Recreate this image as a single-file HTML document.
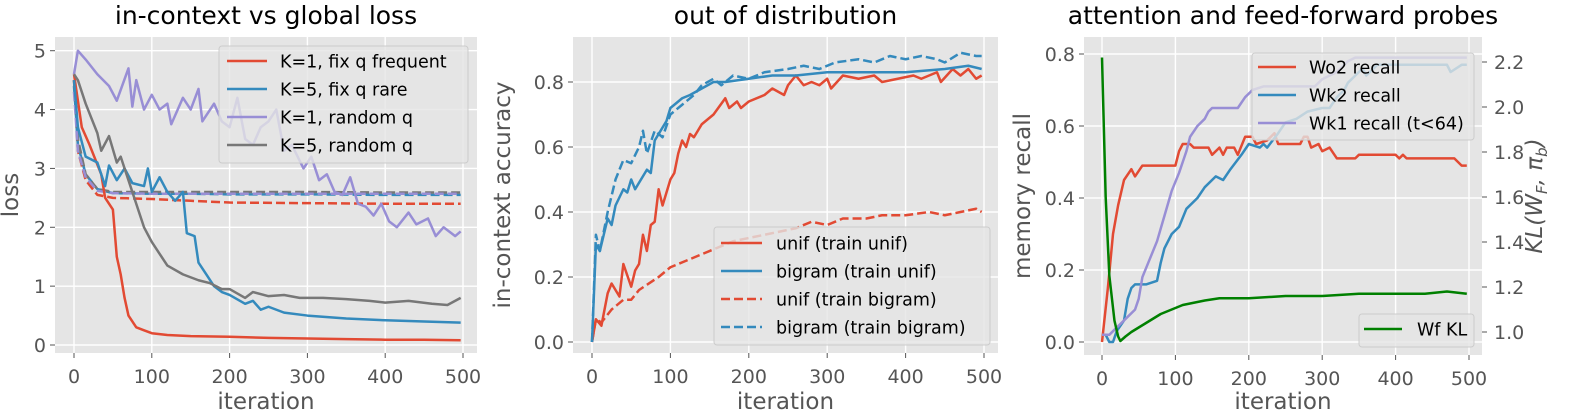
<!DOCTYPE html>
<html><head><meta charset="utf-8"><style>
body{margin:0;background:#fff;}
svg text{font-family:"DejaVu Sans","Liberation Sans",sans-serif;}
</style></head><body>
<svg id="fig" width="1581" height="414" viewBox="0 0 1581 414" xmlns="http://www.w3.org/2000/svg"></svg>
<script>
// ---- Panel 1 data: in-context vs global loss ----
const p1_redX=[0,10,20,35,40,50,55,60,65,70,80,90,100,120,150,200,250,300,350,400,450,497];
const p1_redY=[4.6,3.7,3.4,2.9,2.5,2.3,1.5,1.2,0.8,0.5,0.3,0.25,0.2,0.17,0.15,0.14,0.12,0.11,0.1,0.09,0.09,0.08];
const p1_blueX=[0,5,15,30,40,45,55,65,75,90,95,100,110,120,130,140,145,155,160,170,180,190,200,220,230,240,250,270,300,350,400,450,497];
const p1_blueY=[4.5,3.7,3.2,3.1,2.7,3.05,2.8,3.0,2.75,2.7,3.0,2.6,2.85,2.6,2.45,2.6,1.9,1.85,1.4,1.2,1.0,0.9,0.85,0.7,0.75,0.6,0.65,0.55,0.5,0.45,0.42,0.4,0.38];
const p1_purpX=[0,5,15,30,45,55,70,75,80,90,100,110,120,125,140,150,160,165,175,180,190,200,210,220,230,240,250,260,270,280,295,305,315,325,335,345,355,365,375,385,395,405,415,430,440,455,465,475,490,497];
const p1_purpY=[4.6,5.0,4.85,4.6,4.4,4.15,4.7,4.05,4.5,4.0,4.25,4.0,4.1,3.75,4.2,4.0,4.35,3.8,4.0,4.1,3.8,3.7,4.2,3.5,3.4,3.7,3.8,4.0,3.3,3.4,3.0,3.2,2.8,2.9,2.6,2.55,2.85,2.4,2.35,2.2,2.4,2.1,2.0,2.25,2.05,2.15,1.85,2.0,1.85,1.93];
const p1_grayX=[0,5,15,30,35,45,55,60,70,80,90,100,110,120,140,160,175,190,200,220,230,250,270,290,320,350,380,400,430,460,480,497];
const p1_grayY=[4.6,4.5,4.1,3.6,3.3,3.55,3.1,3.2,2.8,2.4,2.0,1.75,1.55,1.35,1.2,1.1,1.05,0.95,0.95,0.8,0.9,0.83,0.85,0.8,0.8,0.78,0.75,0.72,0.75,0.7,0.68,0.8];
const p1_dashX=[0,5,15,30,50,100,150,200,300,400,497];
const p1_dRedY=[4.5,3.3,2.8,2.55,2.5,2.48,2.45,2.42,2.41,2.4,2.4];
const p1_dBlueY=[4.4,3.4,2.9,2.65,2.58,2.57,2.57,2.56,2.56,2.55,2.55];
const p1_dPurpY=[4.3,3.3,2.85,2.62,2.58,2.57,2.57,2.57,2.57,2.57,2.57];
const p1_dGrayY=[4.5,3.5,2.9,2.65,2.6,2.6,2.6,2.6,2.6,2.59,2.59];
// ---- Panel 2 data: out of distribution ----
const p2_redX=[0,5,12,20,25,35,40,50,55,60,65,70,75,80,85,90,100,105,110,115,120,125,130,140,155,170,175,185,190,200,220,230,245,250,260,270,280,290,300,305,320,340,360,370,390,410,420,440,445,460,470,480,490,497];
const p2_redY=[0,0.07,0.05,0.15,0.18,0.14,0.24,0.17,0.22,0.24,0.33,0.28,0.36,0.37,0.47,0.42,0.5,0.52,0.58,0.62,0.6,0.64,0.63,0.67,0.7,0.75,0.72,0.74,0.72,0.74,0.76,0.78,0.76,0.79,0.82,0.79,0.8,0.79,0.81,0.78,0.82,0.81,0.82,0.8,0.81,0.82,0.81,0.83,0.8,0.84,0.82,0.84,0.81,0.82];
const p2_blueX=[0,5,10,15,20,25,30,40,45,50,55,70,75,80,95,100,115,125,140,155,170,200,230,260,300,350,400,450,480,497];
const p2_blueY=[0,0.3,0.28,0.33,0.38,0.36,0.42,0.47,0.46,0.5,0.47,0.53,0.52,0.62,0.68,0.72,0.75,0.76,0.78,0.8,0.8,0.81,0.82,0.82,0.83,0.83,0.83,0.84,0.85,0.84];
const p2_dBlueX=[0,5,10,20,30,40,50,60,65,70,80,90,100,115,130,140,155,165,180,200,220,250,270,290,310,340,360,380,400,420,440,450,470,490,497];
const p2_dBlueY=[0,0.33,0.28,0.4,0.5,0.56,0.55,0.6,0.65,0.58,0.65,0.63,0.7,0.73,0.76,0.79,0.81,0.79,0.82,0.81,0.83,0.84,0.85,0.84,0.86,0.87,0.86,0.88,0.87,0.88,0.87,0.86,0.89,0.88,0.88];
const p2_dRedX=[0,5,12,25,40,50,60,85,100,120,140,160,180,220,260,280,300,320,350,370,400,430,450,470,490,497];
const p2_dRedY=[0,0.07,0.06,0.1,0.13,0.13,0.16,0.2,0.23,0.25,0.27,0.29,0.31,0.33,0.35,0.37,0.36,0.38,0.38,0.39,0.39,0.4,0.39,0.4,0.41,0.4];
// ---- Panel 3 data: attention and feed-forward probes ----
const p3_wo2X=[0,8,15,22,30,40,45,55,100,105,110,120,125,145,150,160,165,170,180,185,195,205,210,225,235,240,270,275,280,285,295,300,310,320,345,350,400,405,410,415,480,490,497];
const p3_wo2Y=[0,0.15,0.3,0.38,0.45,0.48,0.46,0.49,0.49,0.53,0.55,0.55,0.54,0.54,0.52,0.54,0.52,0.54,0.54,0.52,0.57,0.57,0.55,0.56,0.58,0.55,0.55,0.57,0.57,0.54,0.55,0.53,0.54,0.51,0.51,0.52,0.52,0.51,0.52,0.51,0.51,0.49,0.49];
const p3_wk2X=[0,5,10,15,20,30,35,40,45,60,75,80,85,95,105,115,130,140,155,165,175,190,200,215,220,225,240,250,265,280,300,310,320,330,335,345,355,360,375,470,475,490,497];
const p3_wk2Y=[0.02,0.02,0,0,0.03,0.06,0.12,0.15,0.16,0.16,0.17,0.22,0.26,0.3,0.32,0.37,0.4,0.43,0.46,0.45,0.48,0.52,0.55,0.54,0.55,0.54,0.58,0.61,0.62,0.64,0.65,0.65,0.68,0.7,0.72,0.74,0.76,0.74,0.77,0.77,0.75,0.77,0.77];
const p3_wk1X=[0,10,15,25,35,45,50,55,65,75,85,95,105,110,115,120,130,140,145,150,185,195,205,220,290,300,320,335,345,497];
const p3_wk1Y=[0.02,0.02,0.03,0.05,0.07,0.09,0.12,0.18,0.23,0.28,0.35,0.42,0.47,0.5,0.53,0.57,0.6,0.62,0.64,0.65,0.65,0.68,0.7,0.71,0.71,0.73,0.75,0.78,0.79,0.79];
const p3_klX=[0,5,10,17,22,25,32,40,50,60,70,80,95,110,125,140,160,200,250,300,350,400,440,470,497];
const p3_klY=[2.22,1.6,1.25,1.05,0.98,0.96,0.98,1.0,1.02,1.04,1.06,1.08,1.1,1.12,1.13,1.14,1.15,1.15,1.16,1.16,1.17,1.17,1.17,1.18,1.17];
const xTicks=[0,100,200,300,400,500];
const p1_yTicks=[0,1,2,3,4,5];
const p2_yTicks=[0,0.2,0.4,0.6,0.8];
const p3_yTicks=[0,0.2,0.4,0.6,0.8];
const p3_y2Ticks=[1.0,1.2,1.4,1.6,1.8,2.0,2.2];

const NS="http://www.w3.org/2000/svg";
const svg=document.getElementById('fig');
function mk(tag,attrs,parent){const e=document.createElementNS(NS,tag);for(const k in attrs)e.setAttribute(k,attrs[k]);(parent||svg).appendChild(e);return e;}
function lin(d0,d1,r0,r1){return v=>r0+(v-d0)*(r1-r0)/(d1-d0);}
const C={red:'#E24A33',blue:'#348ABD',purp:'#988ED5',gray:'#777777',green:'#008000'};
const TICK=19, LAB=23, TITLE=25, LEG=17.5;

function panel(o){
  const g=mk('g',{});
  
  
  const bg=mk('rect',{x:o.l,y:o.t,width:o.r-o.l,height:o.b-o.t,fill:'#E5E5E5'},g);
  
  
  xTicks.forEach(v=>{const X=o.sx(v);
    mk('line',{x1:X,x2:X,y1:o.t,y2:o.b,stroke:'#fff','stroke-width':1.4},g);
    mk('line',{x1:X,x2:X,y1:o.b,y2:o.b+5,stroke:'#555','stroke-width':1},g);
    const t=mk('text',{x:X,y:o.b+30,'text-anchor':'middle','font-size':TICK,fill:'#555'},g);t.textContent=v;
    
    
  });
  o.yTicks.forEach(v=>{const Y=o.sy(v);
    mk('line',{x1:o.l,x2:o.r,y1:Y,y2:Y,stroke:'#fff','stroke-width':1.4},g);
    mk('line',{x1:o.l-5,x2:o.l,y1:Y,y2:Y,stroke:'#555','stroke-width':1},g);
    const t=mk('text',{x:o.l-9,y:Y+7,'text-anchor':'end','font-size':TICK,fill:'#555'},g);t.textContent=o.fmt(v);
    
    
  });
  const ti=mk('text',{x:(o.l+o.r)/2,y:24,'text-anchor':'middle','font-size':TITLE,fill:'#000'},g);ti.textContent=o.title;
  
  
  const xl=mk('text',{x:(o.l+o.r)/2,y:409,'text-anchor':'middle','font-size':LAB,fill:'#555'},g);xl.textContent='iteration';
  
  
  const yl=mk('text',{x:0,y:0,'text-anchor':'middle','font-size':LAB,fill:'#555',transform:`translate(${o.ylx},${(o.t+o.b)/2}) rotate(-90)`},g);yl.textContent=o.ylabel;
  
  
  return g;
}
function series(g,xs,ys,sx,sy,color,dash,name){
  const p=mk('polyline',{points:xs.map((x,i)=>sx(x)+','+sy(ys[i])).join(' '),fill:'none',stroke:color,'stroke-width':2.5,'stroke-linejoin':'round','stroke-dasharray':dash?'9,4':'none'},g);
  
  
}
function legend(g,x,y,w,h,entries,lx0,lx1,tx,name){
  const lg=mk('g',{},g);
  
  
  mk('rect',{x:x,y:y,width:w,height:h,rx:3,fill:'#E5E5E5','fill-opacity':0.8,stroke:'#ccc','stroke-width':1},lg);
  entries.forEach(e=>{
    const it=mk('g',{},lg);
    
    
    mk('line',{x1:lx0,x2:lx1,y1:e.y,y2:e.y,stroke:e.c,'stroke-width':2.5,'stroke-dasharray':e.d?'9,4':'none'},it);
    const t=mk('text',{x:tx,y:e.y+6.5,'font-size':LEG,fill:'#000'},it);t.textContent=e.t;
  });
}

// Panel 1
{const sx=lin(0,500,74,463),sy=lin(0,5,345,50.7);
 const g=panel({name:'loss-panel',l:55,r:477,t:37,b:353,sx,sy,yTicks:p1_yTicks,fmt:v=>v,title:'in-context vs global loss',ylabel:'loss',ylx:18});
 series(g,p1_dashX,p1_dRedY,sx,sy,C.red,1,'line-k1-frequent-global');
 series(g,p1_dashX,p1_dBlueY,sx,sy,C.blue,1,'line-k5-rare-global');
 series(g,p1_dashX,p1_dGrayY,sx,sy,C.gray,1,'line-k5-random-global');
 series(g,p1_dashX,p1_dPurpY,sx,sy,C.purp,1,'line-k1-random-global');
 series(g,p1_redX,p1_redY,sx,sy,C.red,0,'line-k1-frequent');
 series(g,p1_blueX,p1_blueY,sx,sy,C.blue,0,'line-k5-rare');
 series(g,p1_purpX,p1_purpY,sx,sy,C.purp,0,'line-k1-random');
 series(g,p1_grayX,p1_grayY,sx,sy,C.gray,0,'line-k5-random');
 legend(g,219,46,249,117,[{y:61,c:C.red,t:'K=1, fix q frequent'},{y:89,c:C.blue,t:'K=5, fix q rare'},{y:117,c:C.purp,t:'K=1, random q'},{y:145,c:C.gray,t:'K=5, random q'}],227,267,280,'legend');
}
// Panel 2
{const sx=lin(0,500,592,984),sy=lin(0,0.8,342,82);
 const g=panel({name:'ood-panel',l:573,r:998,t:37,b:353,sx,sy,yTicks:p2_yTicks,fmt:v=>v.toFixed(1),title:'out of distribution',ylabel:'in-context accuracy',ylx:510});
 series(g,p2_dRedX,p2_dRedY,sx,sy,C.red,1,'line-unif-train-bigram');
 series(g,p2_redX,p2_redY,sx,sy,C.red,0,'line-unif-train-unif');
 series(g,p2_dBlueX,p2_dBlueY,sx,sy,C.blue,1,'line-bigram-train-bigram');
 series(g,p2_blueX,p2_blueY,sx,sy,C.blue,0,'line-bigram-train-unif');
 legend(g,714,227,276,118,[{y:243,c:C.red,t:'unif (train unif)'},{y:271,c:C.blue,t:'bigram (train unif)'},{y:299,c:C.red,d:1,t:'unif (train bigram)'},{y:327,c:C.blue,d:1,t:'bigram (train bigram)'}],721,762,776,'legend');
}
// Panel 3
{const sx=lin(0,500,1102,1469),sy=lin(0,0.8,342,54),sy2=lin(1.0,2.2,332,62);
 const g=panel({name:'probes-panel',l:1084,r:1482,t:37,b:355,sx,sy,yTicks:p3_yTicks,fmt:v=>v.toFixed(1),title:'attention and feed-forward probes',ylabel:'memory recall',ylx:1030});
 p3_y2Ticks.forEach(v=>{const Y=sy2(v);
   mk('line',{x1:1482,x2:1487,y1:Y,y2:Y,stroke:'#555','stroke-width':1},g);
   const t=mk('text',{x:1494,y:Y+7,'font-size':TICK,fill:'#555'},g);t.textContent=v.toFixed(1);
   
   
 });
 const yl2=mk('text',{x:0,y:0,'text-anchor':'middle','font-size':LAB,fill:'#555','font-style':'italic',transform:`translate(1542,196) rotate(-90)`},g);
 yl2.innerHTML='KL(W<tspan font-size="15" dy="5">F</tspan><tspan dy="-5">, π</tspan><tspan font-size="15" dy="5">b</tspan><tspan dy="-5">)</tspan>';
 
 
 series(g,p3_wo2X,p3_wo2Y,sx,sy,C.red,0,'line-wo2-recall');
 series(g,p3_wk2X,p3_wk2Y,sx,sy,C.blue,0,'line-wk2-recall');
 series(g,p3_wk1X,p3_wk1Y,sx,sy,C.purp,0,'line-wk1-recall');
 legend(g,1252,53,222,87,[{y:67,c:C.red,t:'Wo2 recall'},{y:95,c:C.blue,t:'Wk2 recall'},{y:123,c:C.purp,t:'Wk1 recall (t<64)'}],1258,1296,1309,'legend');
 series(g,p3_klX,p3_klY,sx,sy2,C.green,0,'line-wf-kl');
 legend(g,1359,314,115,33,[{y:329,c:C.green,t:'Wf KL'}],1364,1402,1417,'legend-kl');
}
</script>
</body></html>
